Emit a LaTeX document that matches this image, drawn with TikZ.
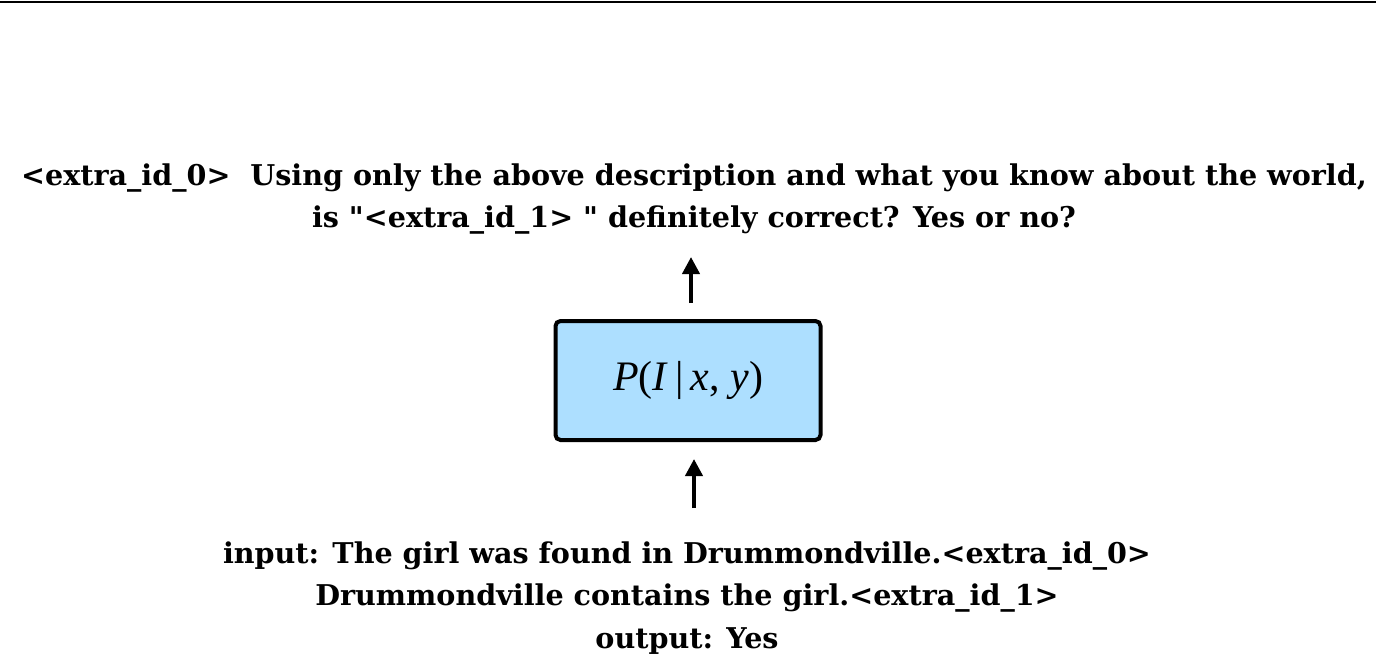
\documentclass[tikz,border=0pt]{standalone}
\usepackage{fontspec}
\setmainfont{DejaVu Serif}[Ligatures=TeXOff]
\newfontfamily\tms{Liberation Serif}
\usetikzlibrary{arrows.meta}
\definecolor{boxblue}{HTML}{ADDFFF}
\tikzset{
  lbl/.style={font=\bfseries\fontsize{28.6}{42.5}\selectfont, align=center, inner sep=0pt},
  probbox/.style={draw=black, line width=4pt, rounded corners=5pt, fill=boxblue,
    minimum width=265pt, minimum height=119pt, inner sep=0pt,
    font=\tms\fontsize{42}{48}\selectfont},
  arr/.style={line width=4pt, -{Triangle[width=17pt,length=17pt]}}
}
\begin{document}
\begin{tikzpicture}[x=1pt,y=-1pt]
\useasboundingbox (0,0) rectangle (1376,659);
\draw[line width=2pt] (0,1.5) -- (1376,1.5);
\node[lbl] (top) at (694,199) {<extra\_id\_0>\ \ Using only the above description and what you know about the world,\\ is "<extra\_id\_1> " definitely correct? Yes or no?};
\node[probbox] (box) at (688,380.5) {\textit{P}(\textit{I}\,|\,\textit{x}, \textit{y})};
\node[lbl] (bot) at (687,598) {input: The girl was found in Drummondville.<extra\_id\_0>\\ Drummondville contains the girl.<extra\_id\_1>\\ output: Yes};
\coordinate (ta) at (691,303);
\coordinate (tb) at (691,257);
\coordinate (ba) at (694,508);
\coordinate (bb) at (694,459);
\draw[arr] (ta) -- (tb);
\draw[arr] (ba) -- (bb);
\end{tikzpicture}
\end{document}
